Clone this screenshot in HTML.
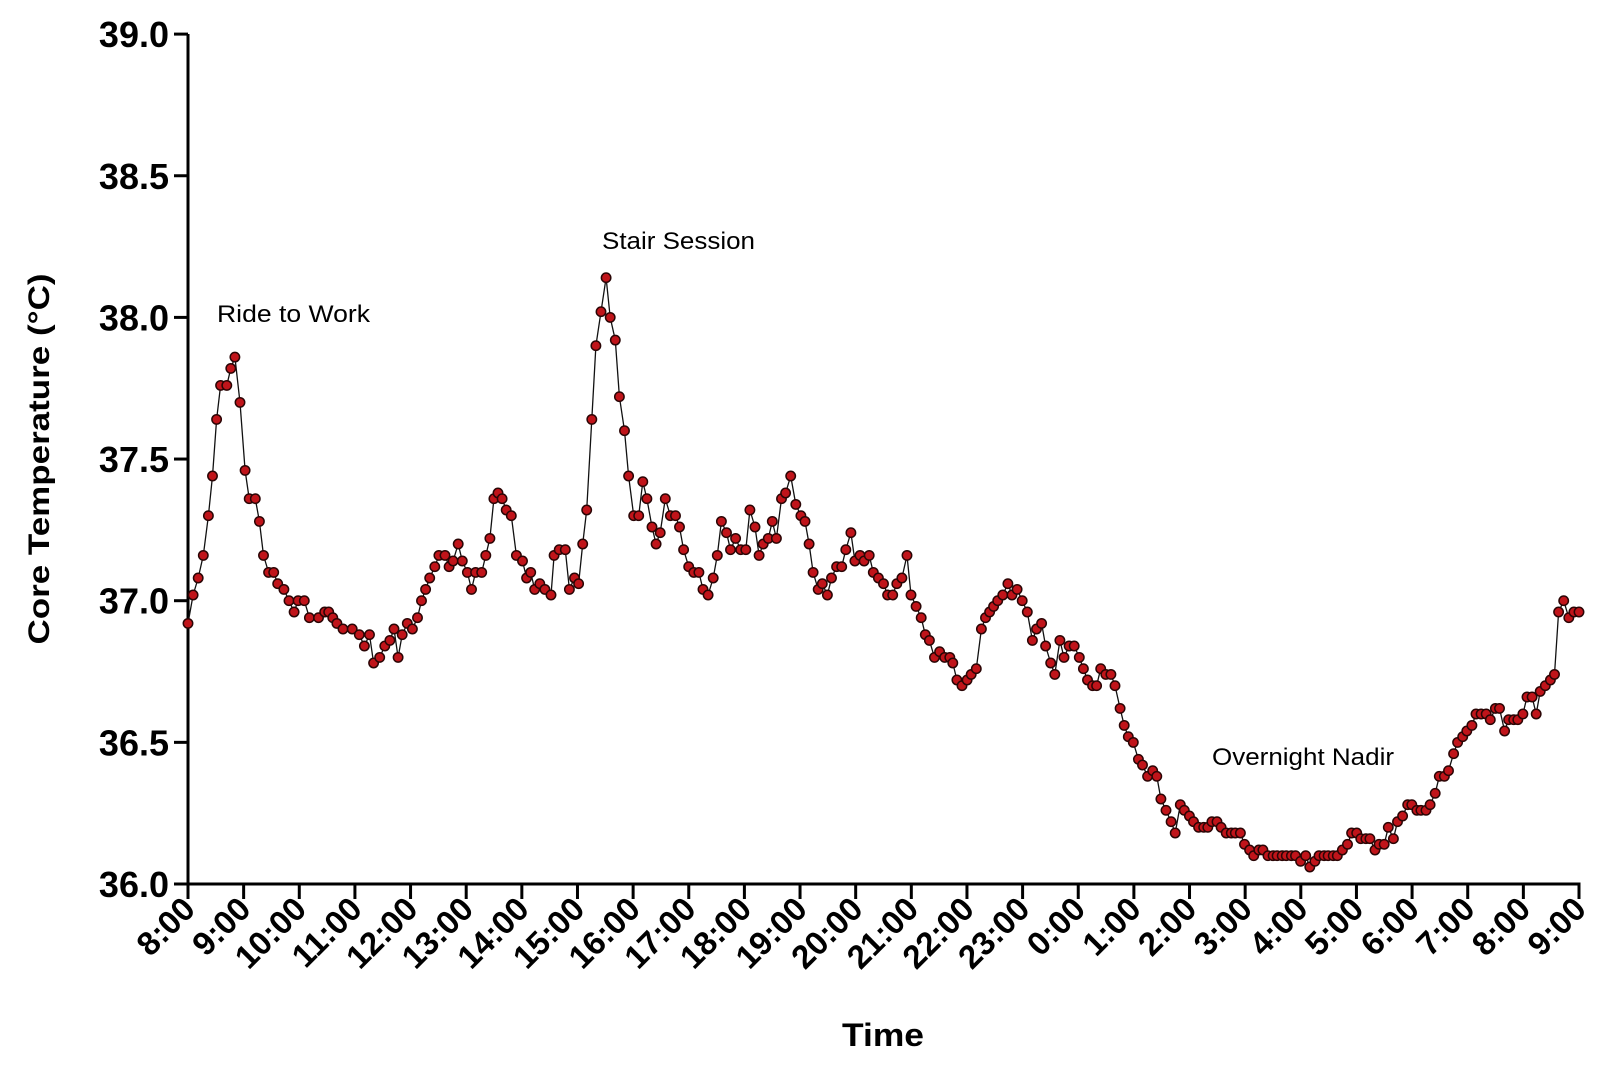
<!DOCTYPE html>
<html><head><meta charset="utf-8"><style>html,body{margin:0;padding:0;background:#fff}svg{display:block}</style></head>
<body>
<svg id="s" width="1600" height="1067" viewBox="0 0 1600 1067" xmlns="http://www.w3.org/2000/svg" font-family="Liberation Sans, Arial, sans-serif">
<g id="axes" stroke="#000" stroke-width="3" fill="none"></g>
<g id="labels" font-weight="bold" font-size="36" fill="#000"></g>
<polyline id="line" fill="none" stroke="#111" stroke-width="1.3"/>
<g id="dots" fill="#c0141a" stroke="#2a0505" stroke-width="1.5"></g>
<text x="217" y="322" font-size="24" textLength="153" lengthAdjust="spacingAndGlyphs">Ride to Work</text>
<text x="602" y="249" font-size="24" textLength="153" lengthAdjust="spacingAndGlyphs">Stair Session</text>
<text x="1212" y="765" font-size="24" textLength="182" lengthAdjust="spacingAndGlyphs">Overnight Nadir</text>
<text transform="translate(49,459) rotate(-90)" text-anchor="middle" font-size="30" font-weight="bold" textLength="371" lengthAdjust="spacingAndGlyphs">Core Temperature (°C)</text>
<text x="883" y="1046" text-anchor="middle" font-size="32" font-weight="bold" textLength="82" lengthAdjust="spacingAndGlyphs">Time</text>
</svg>
<script>
var NS="http://www.w3.org/2000/svg";
function el(p,t,a,txt){var e=document.createElementNS(NS,t);for(var k in a)e.setAttribute(k,a[k]);if(txt!=null)e.textContent=txt;p.appendChild(e);return e;}
var X0=188,X1=1579,Y0=884,PD=283.3;
function ty(t){return Y0-(t-36)*PD;}
var ax=document.getElementById('axes'),lb=document.getElementById('labels');
el(ax,'line',{x1:X0,y1:34,x2:X0,y2:Y0+1.5});
el(ax,'line',{x1:X0-1.5,y1:Y0,x2:X1+1.5,y2:Y0});
for(var i=0;i<=6;i++){var v=36+i*0.5,y=ty(v);el(ax,'line',{x1:174,y1:y,x2:X0,y2:y});
el(lb,'text',{x:169,y:y+13,'text-anchor':'end'},v.toFixed(1));}
var hrs=[];for(var h=0;h<=25;h++){hrs.push(((8+h)%24)+':00');}
for(var h=0;h<=25;h++){var x=X0+h*(X1-X0)/25;el(ax,'line',{x1:x,y1:Y0,x2:x,y2:Y0+15});
el(lb,'text',{transform:'translate('+(x+9)+','+(Y0+27)+') rotate(-45)','text-anchor':'end','font-size':'33'},hrs[h]);}
var d=[184,36.92,189,37.02,194,37.08,199,37.16,204,37.3,208,37.44,212,37.64,216,37.76,222,37.76,226,37.82,230,37.86,235,37.7,240,37.46,244,37.36,250,37.36,254,37.28,258,37.16,263,37.1,268,37.1,272,37.06,278,37.04,283,37.0,288,36.96,292,37.0,298,37.0,303,36.94,312,36.94,318,36.96,322,36.96,326,36.94,330,36.92,336,36.9,345,36.9,352,36.88,357,36.84,362,36.88,366,36.78,372,36.8,377,36.84,382,36.86,386,36.9,390,36.8,394,36.88,399,36.92,404,36.9,409,36.94,413,37.0,417,37.04,421,37.08,426,37.12,430,37.16,436,37.16,440,37.12,444,37.14,449,37.2,453,37.14,458,37.1,462,37.04,466,37.1,472,37.1,476,37.16,480,37.22,484,37.36,488,37.38,492,37.36,496,37.32,501,37.3,506,37.16,512,37.14,516,37.08,520,37.1,524,37.04,529,37.06,534,37.04,540,37.02,543,37.16,548,37.18,554,37.18,558,37.04,563,37.08,567,37.06,571,37.2,575,37.32,580,37.64,584,37.9,589,38.02,594,38.14,598,38.0,603,37.92,607,37.72,612,37.6,616,37.44,621,37.3,626,37.3,630,37.42,634,37.36,639,37.26,643,37.2,647,37.24,652,37.36,657,37.3,662,37.3,666,37.26,670,37.18,675,37.12,680,37.1,685,37.1,689,37.04,694,37.02,699,37.08,703,37.16,707,37.28,712,37.24,716,37.18,721,37.22,726,37.18,731,37.18,735,37.32,740,37.26,744,37.16,748,37.2,753,37.22,757,37.28,761,37.22,766,37.36,770,37.38,775,37.44,780,37.34,785,37.3,789,37.28,793,37.2,797,37.1,802,37.04,806,37.06,811,37.02,815,37.08,820,37.12,825,37.12,829,37.18,834,37.24,838,37.14,843,37.16,847,37.14,852,37.16,856,37.1,861,37.08,866,37.06,870,37.02,875,37.02,879,37.06,884,37.08,889,37.16,893,37.02,898,36.98,903,36.94,907,36.88,911,36.86,916,36.8,921,36.82,926,36.8,931,36.8,934,36.78,938,36.72,943,36.7,948,36.72,952,36.74,957,36.76,962,36.9,966,36.94,970,36.96,974,36.98,978,37.0,983,37.02,988,37.06,992,37.02,997,37.04,1002,37.0,1007,36.96,1012,36.86,1016,36.9,1021,36.92,1025,36.84,1030,36.78,1034,36.74,1039,36.86,1043,36.8,1048,36.84,1053,36.84,1058,36.8,1062,36.76,1066,36.72,1071,36.7,1075,36.7,1079,36.76,1084,36.74,1089,36.74,1093,36.7,1098,36.62,1102,36.56,1106,36.52,1111,36.5,1116,36.44,1120,36.42,1125,36.38,1130,36.4,1134,36.38,1138,36.3,1143,36.26,1148,36.22,1152,36.18,1157,36.28,1161,36.26,1166,36.24,1170,36.22,1175,36.2,1180,36.2,1184,36.2,1188,36.22,1193,36.22,1197,36.2,1202,36.18,1207,36.18,1211,36.18,1216,36.18,1220,36.14,1225,36.12,1229,36.1,1234,36.12,1238,36.12,1243,36.1,1248,36.1,1252,36.1,1257,36.1,1261,36.1,1266,36.1,1270,36.1,1275,36.08,1280,36.1,1284,36.06,1289,36.08,1293,36.1,1298,36.1,1302,36.1,1307,36.1,1311,36.1,1316,36.12,1321,36.14,1325,36.18,1330,36.18,1334,36.16,1339,36.16,1343,36.16,1348,36.12,1352,36.14,1357,36.14,1361,36.2,1366,36.16,1370,36.22,1375,36.24,1380,36.28,1384,36.28,1389,36.26,1393,36.26,1398,36.26,1402,36.28,1407,36.32,1411,36.38,1416,36.38,1420,36.4,1425,36.46,1429,36.5,1434,36.52,1438,36.54,1443,36.56,1447,36.6,1452,36.6,1457,36.6,1461,36.58,1466,36.62,1470,36.62,1475,36.54,1479,36.58,1484,36.58,1488,36.58,1493,36.6,1497,36.66,1502,36.66,1506,36.6,1510,36.68,1515,36.7,1520,36.72,1524,36.74,1528,36.96,1533,37.0,1538,36.94,1543,36.96,1548,36.96];
var pts=[],dots=document.getElementById('dots');
for(var i=0;i<d.length;i+=2){var x=X0+(d[i]-184)*(X1-X0)/1364,y=ty(d[i+1]);pts.push(x.toFixed(1)+','+y.toFixed(1));}
document.getElementById('line').setAttribute('points',pts.join(' '));
for(var i=0;i<pts.length;i++){var p=pts[i].split(',');el(dots,'circle',{cx:p[0],cy:p[1],r:4.7});}
</script>
</body></html>
